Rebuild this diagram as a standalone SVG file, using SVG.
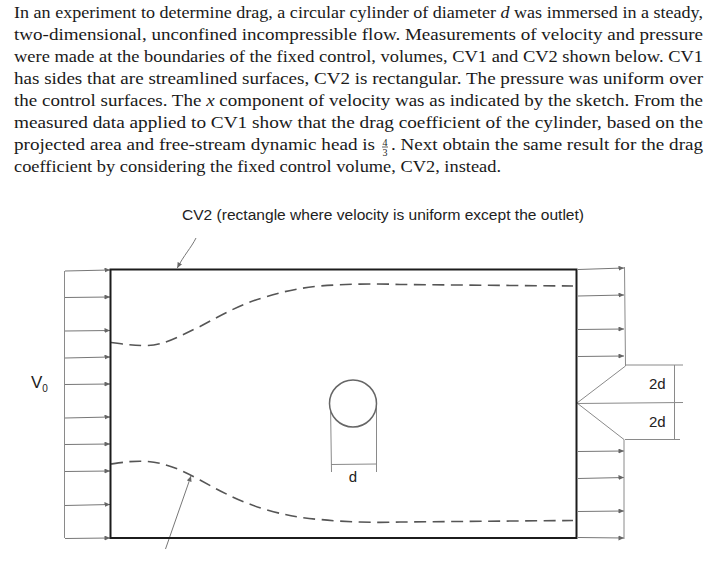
<svg xmlns="http://www.w3.org/2000/svg" width="713" height="573" viewBox="0 0 713 573">
<style>
.t{font-family:"Liberation Serif","Times New Roman",serif;font-size:17.3px;fill:#1a1a1a}
.i{font-style:italic}
.f{font-family:"Liberation Serif",serif;font-size:10px;fill:#1a1a1a;text-anchor:middle}
.s{font-family:"Liberation Sans",Arial,sans-serif;font-size:14px;fill:#222}
.b{font-size:15px}
.v{font-size:17px}
.u{font-size:10px}
.g{fill:none;stroke:#8a8a8a;stroke-width:1}
.a{fill:none;stroke:#777;stroke-width:1;marker-end:url(#ah)}
.d{fill:none;stroke:#555;stroke-width:1.6;stroke-dasharray:12 6.500}
.r{fill:none;stroke:#1c1c1c;stroke-width:2}
</style>
<defs>
<marker id="ah" markerUnits="userSpaceOnUse" markerWidth="7" markerHeight="6" refX="5.500" refY="2.500" orient="auto"><path d="M0 0L5.500 2.500L0 5Z" fill="#666"/></marker>
</defs>
<rect width="713" height="573" fill="#fff"/>
<g id="problem-text">
<text class="t" x="14" y="17.500" textLength="689" lengthAdjust="spacingAndGlyphs">In an experiment to determine drag, a circular cylinder of diameter <tspan class="i">d</tspan> was immersed in a steady,</text>
<text class="t" x="14" y="39.500" textLength="689" lengthAdjust="spacingAndGlyphs">two-dimensional, unconfined incompressible flow. Measurements of velocity and pressure</text>
<text class="t" x="14" y="61.500" textLength="689" lengthAdjust="spacingAndGlyphs">were made at the boundaries of the fixed control, volumes, CV1 and CV2 shown below. CV1</text>
<text class="t" x="14" y="83.500" textLength="689" lengthAdjust="spacingAndGlyphs">has sides that are streamlined surfaces, CV2 is rectangular. The pressure was uniform over</text>
<text class="t" x="14" y="105.500" textLength="689" lengthAdjust="spacingAndGlyphs">the control surfaces. The <tspan class="i">x</tspan> component of velocity was as indicated by the sketch. From the</text>
<text class="t" x="14" y="127.500" textLength="689" lengthAdjust="spacingAndGlyphs">measured data applied to CV1 show that the drag coefficient of the cylinder, based on the</text>
<text class="t" x="14" y="149.500" textLength="361" lengthAdjust="spacingAndGlyphs">projected area and free-stream dynamic head is</text>
<text class="f" x="385" y="145.500">4</text>
<path d="M382 147H388" stroke="#1a1a1a" stroke-width=".7"/>
<text class="f" x="385" y="156">3</text>
<text class="t" x="391" y="149.500" textLength="312" lengthAdjust="spacingAndGlyphs">. Next obtain the same result for the drag</text>
<text class="t" x="14" y="171.500" textLength="487" lengthAdjust="spacingAndGlyphs">coefficient by considering the fixed control volume, CV2, instead.</text>
</g>
<g id="cv2-label"><text class="s" x="182" y="220" textLength="402" lengthAdjust="spacingAndGlyphs">CV2 (rectangle where velocity is uniform except the outlet)</text></g>
<g id="v0-label"><text class="s v" x="31" y="388">V<tspan class="u" dy="4">0</tspan></text></g>
<g id="connectors">
<path class="g" d="M64.500 271V538"/>
<path class="a" d="M65 271L110 270"/><path class="a" d="M65 297.500L110 297"/><path class="a" d="M65 331L110 330.500"/><path class="a" d="M65 358L110 357"/><path class="a" d="M65 384.500L110 384"/>
<path class="a" d="M65 418L110 417"/><path class="a" d="M65 444.500L110 444"/><path class="a" d="M65 471.500L110 471"/><path class="a" d="M65 505.500L110 504.500"/><path class="a" d="M65 538.500L110 538"/>
<path class="a" d="M578 269.500L624 268"/><path class="a" d="M578 296L624 295"/><path class="a" d="M578 329.500L624 329"/><path class="a" d="M578 356.500L624 356"/>
<path class="a" d="M578 451.500L624 451"/><path class="a" d="M578 478.500L624 477.500"/><path class="a" d="M578 511.500L624 511"/><path class="a" d="M578 537.500L624 538"/>
<path class="g" d="M624.500 267L625.500 366L577 403L624 439.500V539"/>
<path class="g" d="M626 365H683M577 403.500L683 402.500M625 439.500H680M674.500 365V439.500"/>
<path class="g" d="M330.500 404L331.500 472M376.500 404V472M331 464.500L377 464"/>
<path class="d" d="M111 342.500C125 344 135 346 148 345.500C165 345 180 336 200 326.500C220 316 240 304 267 296.500C285 291 300 288 320 286C345 284 375 283.500 400 284.500L573 286"/>
<path class="d" d="M111 464C125 462 135 460.500 148 461.500C165 463 180 469 200 480C220 491 240 502 267 510C285 515 300 518 320 519.500C345 522 375 523 400 522L573 520.500"/>
<path class="a" d="M196 238C191 248 184 255 177.300 268"/>
<path class="a" d="M165.500 549L191 476"/>
</g>
<g id="control-volume"><rect class="r" x="110.500" y="269.500" width="466" height="268.500"/></g>
<g id="cylinder"><circle cx="353" cy="403.500" r="23.500" fill="#fff" stroke="#666" stroke-width="1.500"/></g>
<g id="dim-d"><text class="s b" x="353" y="482" text-anchor="middle">d</text></g>
<g id="dim-2d-top"><text class="s b" x="649" y="389">2d</text></g>
<g id="dim-2d-bottom"><text class="s b" x="649" y="427">2d</text></g>
</svg>
